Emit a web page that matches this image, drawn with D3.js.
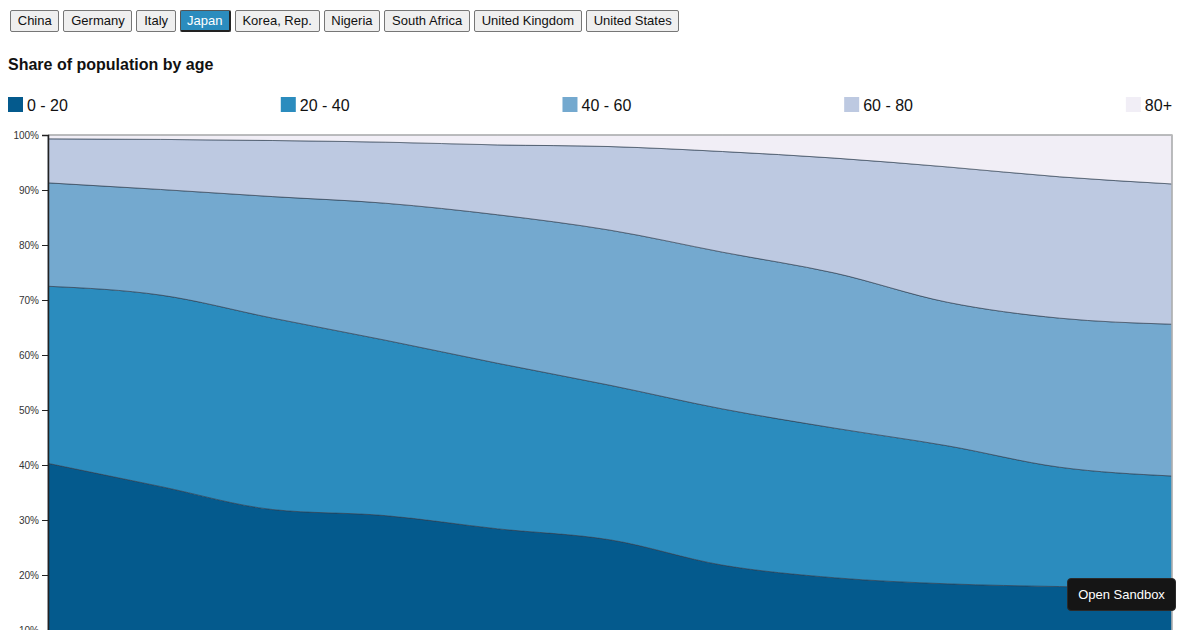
<!DOCTYPE html>
<html>
<head>
<meta charset="utf-8">
<script src="https://cdn.jsdelivr.net/npm/d3@7"></script>
<style>
  html, body { margin: 0; padding: 0; overflow: hidden; background: #fff; width: 1200px; height: 630px; }
  body { font-family: "Liberation Sans", Arial, sans-serif; position: relative; }
  #buttons { position: absolute; left: 10px; top: 10px; display: flex; gap: 4px; }
  #buttons button {
    font-family: "Liberation Sans", Arial, sans-serif; font-size: 13px; color: #111;
    background: #efefef; border: 1px solid #767676; border-radius: 2px;
    height: 22px; padding: 0 6.75px; margin: 0; line-height: 18px;
  }
  #buttons button.active { background: #2b8cbe; color: #fff; border-color: #555 #222 #222 #555; border-width: 1px 2px 2px 1px; padding: 0 6.25px; }
  #chart { position: absolute; left: 0; top: 0; }
  #sandbox {
    position: absolute; left: 1067px; top: 578px; width: 109px; height: 33px;
    background: #151515; color: #fff; border-radius: 4px; border: 1px solid #2a2a2a; box-sizing: border-box;
    font-family: "Liberation Sans", Arial, sans-serif; font-size: 13px; line-height: 31px; text-align: center;
  }
</style>
</head>
<body>
<div id="buttons"></div>
<svg id="chart" width="1200" height="700"></svg>
<div id="sandbox">Open Sandbox</div>
<script>
const countries = ["China", "Germany", "Italy", "Japan", "Korea, Rep.", "Nigeria", "South Africa", "United Kingdom", "United States"];
const selectedCountry = "Japan";
const title = "Share of population by age";
const ageGroups = ["0 - 20", "20 - 40", "40 - 60", "60 - 80", "80+"];
const colors = ["#045a8d", "#2b8cbe", "#74a9cf", "#bdc9e1", "#f1eef6"];
const years = [1950, 1960, 1970, 1980, 1990, 2000, 2010, 2020, 2030, 2040, 2050];
const age0_20  = [40.3, 36.1, 31.9, 30.8, 28.4, 26.4, 21.8, 19.5, 18.4, 17.9, 17.6];
const age20_40 = [32.2, 34.8, 34.8, 31.9, 30.1, 28.1, 28.4, 27.2, 25.1, 21.7, 20.4];
const age40_60 = [18.8, 19.2, 22.1, 24.9, 27.0, 28.2, 28.5, 28.2, 26.1, 27.1, 27.6];
const age60_80 = [8.0, 9.1, 10.2, 11.1, 12.7, 15.2, 18.3, 20.9, 24.6, 25.7, 25.5];
const age80p   = [0.7, 0.8, 1.0, 1.3, 1.8, 2.1, 3.0, 4.2, 5.8, 7.6, 8.9];
const yTicks = [0, 0.1, 0.2, 0.3, 0.4, 0.5, 0.6, 0.7, 0.8, 0.9, 1.0];

const series = [age0_20, age20_40, age40_60, age60_80, age80p];
const table = years.map((yr, i) => {
  const row = { year: yr };
  ageGroups.forEach((g, k) => row[g] = series[k][i]);
  return row;
});

d3.select("#buttons").selectAll("button").data(countries).join("button")
  .attr("class", d => d === selectedCountry ? "active" : null)
  .text(d => d);

const svg = d3.select("#chart");
const margin = { left: 48, right: 28, top: 135 };
const W = 1200;

svg.append("text").attr("x", 8).attr("y", 70)
  .attr("font-family", "Liberation Sans, Arial, sans-serif").attr("font-size", 16).attr("font-weight", "bold")
  .attr("fill", "#111").text(title);

const legend = svg.append("g");
const items = legend.selectAll("g").data(ageGroups).join("g");
items.append("rect").attr("width", 15).attr("height", 15).attr("y", 97)
  .attr("fill", (d, i) => colors[i]);
items.append("text").attr("x", 19).attr("y", 111)
  .attr("font-family", "Liberation Sans, Arial, sans-serif").attr("font-size", 16).attr("fill", "#111")
  .text(d => d);
const widths = [];
items.each(function() { widths.push(this.getBBox().width); });
const totalW = d3.sum(widths);
const legL = 8, legR = 1172;
const gapW = (legR - legL - totalW) / (ageGroups.length - 1);
let cx = legL;
items.attr("transform", (d, i) => { const t = `translate(${cx},0)`; cx += widths[i] + gapW; return t; });

const x = d3.scaleLinear().domain(d3.extent(years)).range([margin.left, W - margin.right]);
const y = d3.scaleLinear().domain([0, 1]).range([685, margin.top]);

const stack = d3.stack().keys(ageGroups).offset(d3.stackOffsetExpand);
const layers = stack(table);

const area = d3.area()
  .x(d => x(d.data.year))
  .y0(d => y(d[0]))
  .y1(d => y(d[1]))
  .curve(d3.curveMonotoneX);

svg.append("g").selectAll("path").data(layers).join("path")
  .attr("d", area)
  .attr("fill", (d, i) => colors[i])
  .attr("stroke", "#2c3e50")
  .attr("stroke-opacity", 0.8)
  .attr("stroke-width", 0.8);

svg.append("path")
  .attr("d", `M${margin.left},${y(1)}H${W - margin.right}V${y(0)}`)
  .attr("fill", "none").attr("stroke", "#bbb").attr("stroke-width", 1.5);

const yAxis = svg.append("g").attr("transform", `translate(${margin.left},0)`)
  .call(d3.axisLeft(y).tickValues(yTicks).tickFormat(d3.format(".0%")));
yAxis.selectAll("text").attr("font-size", 10).attr("fill", "#333")
  .attr("font-family", "Liberation Sans, Arial, sans-serif");
yAxis.select(".domain").attr("stroke", "#222").attr("stroke-width", 1.5);
yAxis.selectAll(".tick line").attr("stroke", "#222");
</script>
</body>
</html>
